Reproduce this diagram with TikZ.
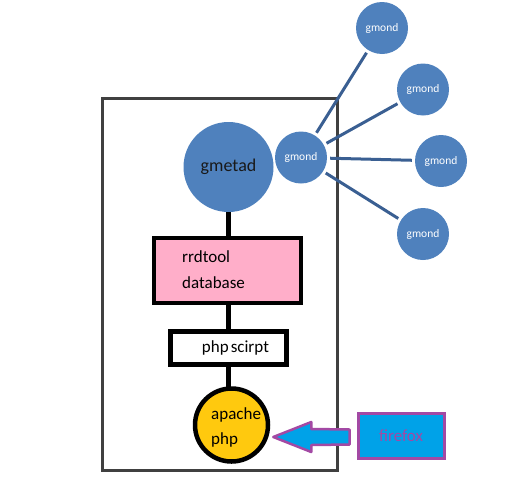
\documentclass[tikz,border=0pt]{standalone}
\usepackage{fontspec}
\setmainfont{Carlito}
\usetikzlibrary{calc}
\definecolor{cblue}{HTML}{4F81BD}
\definecolor{lblue}{HTML}{3A5F92}
\definecolor{fgray}{HTML}{404040}
\definecolor{cpink}{HTML}{FFAEC9}
\definecolor{cyel}{HTML}{FFC90E}
\definecolor{ccyan}{HTML}{00A2E8}
\definecolor{cpurp}{HTML}{A349A4}
\tikzset{
  gmondnode/.style={circle,fill=cblue,minimum size=52pt,inner sep=0pt,text=white,font=\fontsize{11.5}{12}\selectfont},
  spoke/.style={draw=lblue,line width=3pt,shorten <=3pt,shorten >=3pt},
  blk/.style={draw=black,line width=5pt},
  lbl/.style={font=\fontsize{17}{18}\selectfont,inner sep=0pt,text=black},
}
\begin{document}
\begin{tikzpicture}[x=1pt,y=-1pt]
\useasboundingbox (0,0) rectangle (526,479);
% frame
\node[draw=fgray,line width=3pt,minimum width=235pt,minimum height=372pt,inner sep=0pt] (frame) at (219.5,284) {};
% gmetad
\node[circle,fill=cblue,minimum size=90pt,inner sep=0pt,font=\fontsize{18}{20}\selectfont,text=black!90] (gmetad) at (228.5,167) {gmetad};
% gmonds
\node[gmondnode] (g0) at (301,157.5) {gmond};
\node[gmondnode] (g1) at (382,28) {gmond};
\node[gmondnode] (g2) at (423,89.5) {gmond};
\node[gmondnode] (g3) at (441,161) {gmond};
\node[gmondnode] (g4) at (423,234) {gmond};
\draw[spoke] (g0) -- (g1);
\draw[spoke] (g0) -- (g2);
\draw[spoke] (g0) -- (g3);
\draw[spoke] (g0) -- (g4);
% rrdtool box
\node[draw=black,line width=4.5pt,fill=cpink,minimum width=147pt,minimum height=65pt,inner sep=0pt] (rrd) at (227.5,270.5) {};
\node[lbl,anchor=west] (rrdt) at (182,257) {rrdtool};
\node[lbl,anchor=west] (rrdd) at (182,283) {database};
% php script box
\node[draw=black,line width=4.5pt,fill=white,minimum width=116pt,minimum height=33pt,inner sep=0pt] (php) at (228.5,348) {};
\node[lbl] (phpt) at (235.5,348) {php\hspace{2pt}scirpt};
% apache circle
\node[circle,draw=black,line width=4.5pt,fill=cyel,minimum size=73pt,inner sep=0pt] (apache) at (231.5,425) {};
\node[lbl,anchor=west] (apt) at (211,415) {apache};
\node[lbl,anchor=west] (app) at (211,440) {php};
% connectors
\draw[blk] (gmetad.south) -- (gmetad.south |- rrd.north);
\draw[blk] (rrd.south -| php.north) -- (php.north);
\draw[blk,shorten >=-2pt] (php.south) -- (php.south |- apache.north);
% firefox
\node[draw=cpurp,line width=3pt,fill=ccyan,minimum width=86pt,minimum height=45pt,inner sep=0pt,text=cpurp,font=\fontsize{17}{18}\selectfont] (ff) at (401,435.5) {firefox};
% arrow
\draw[draw=cpurp,fill=ccyan,line width=2.5pt,line join=round]
  ($(ff.west)+(-7,-6)$) -- ($(apache.east)+(41,4)$) -- ($(apache.east)+(41,-3)$)
  -- ($(apache.east)+(3,12)$) -- ($(apache.east)+(41,27)$) -- ($(apache.east)+(41,20)$)
  -- ($(ff.west)+(-7,9)$) -- cycle;
\end{tikzpicture}
\end{document}
